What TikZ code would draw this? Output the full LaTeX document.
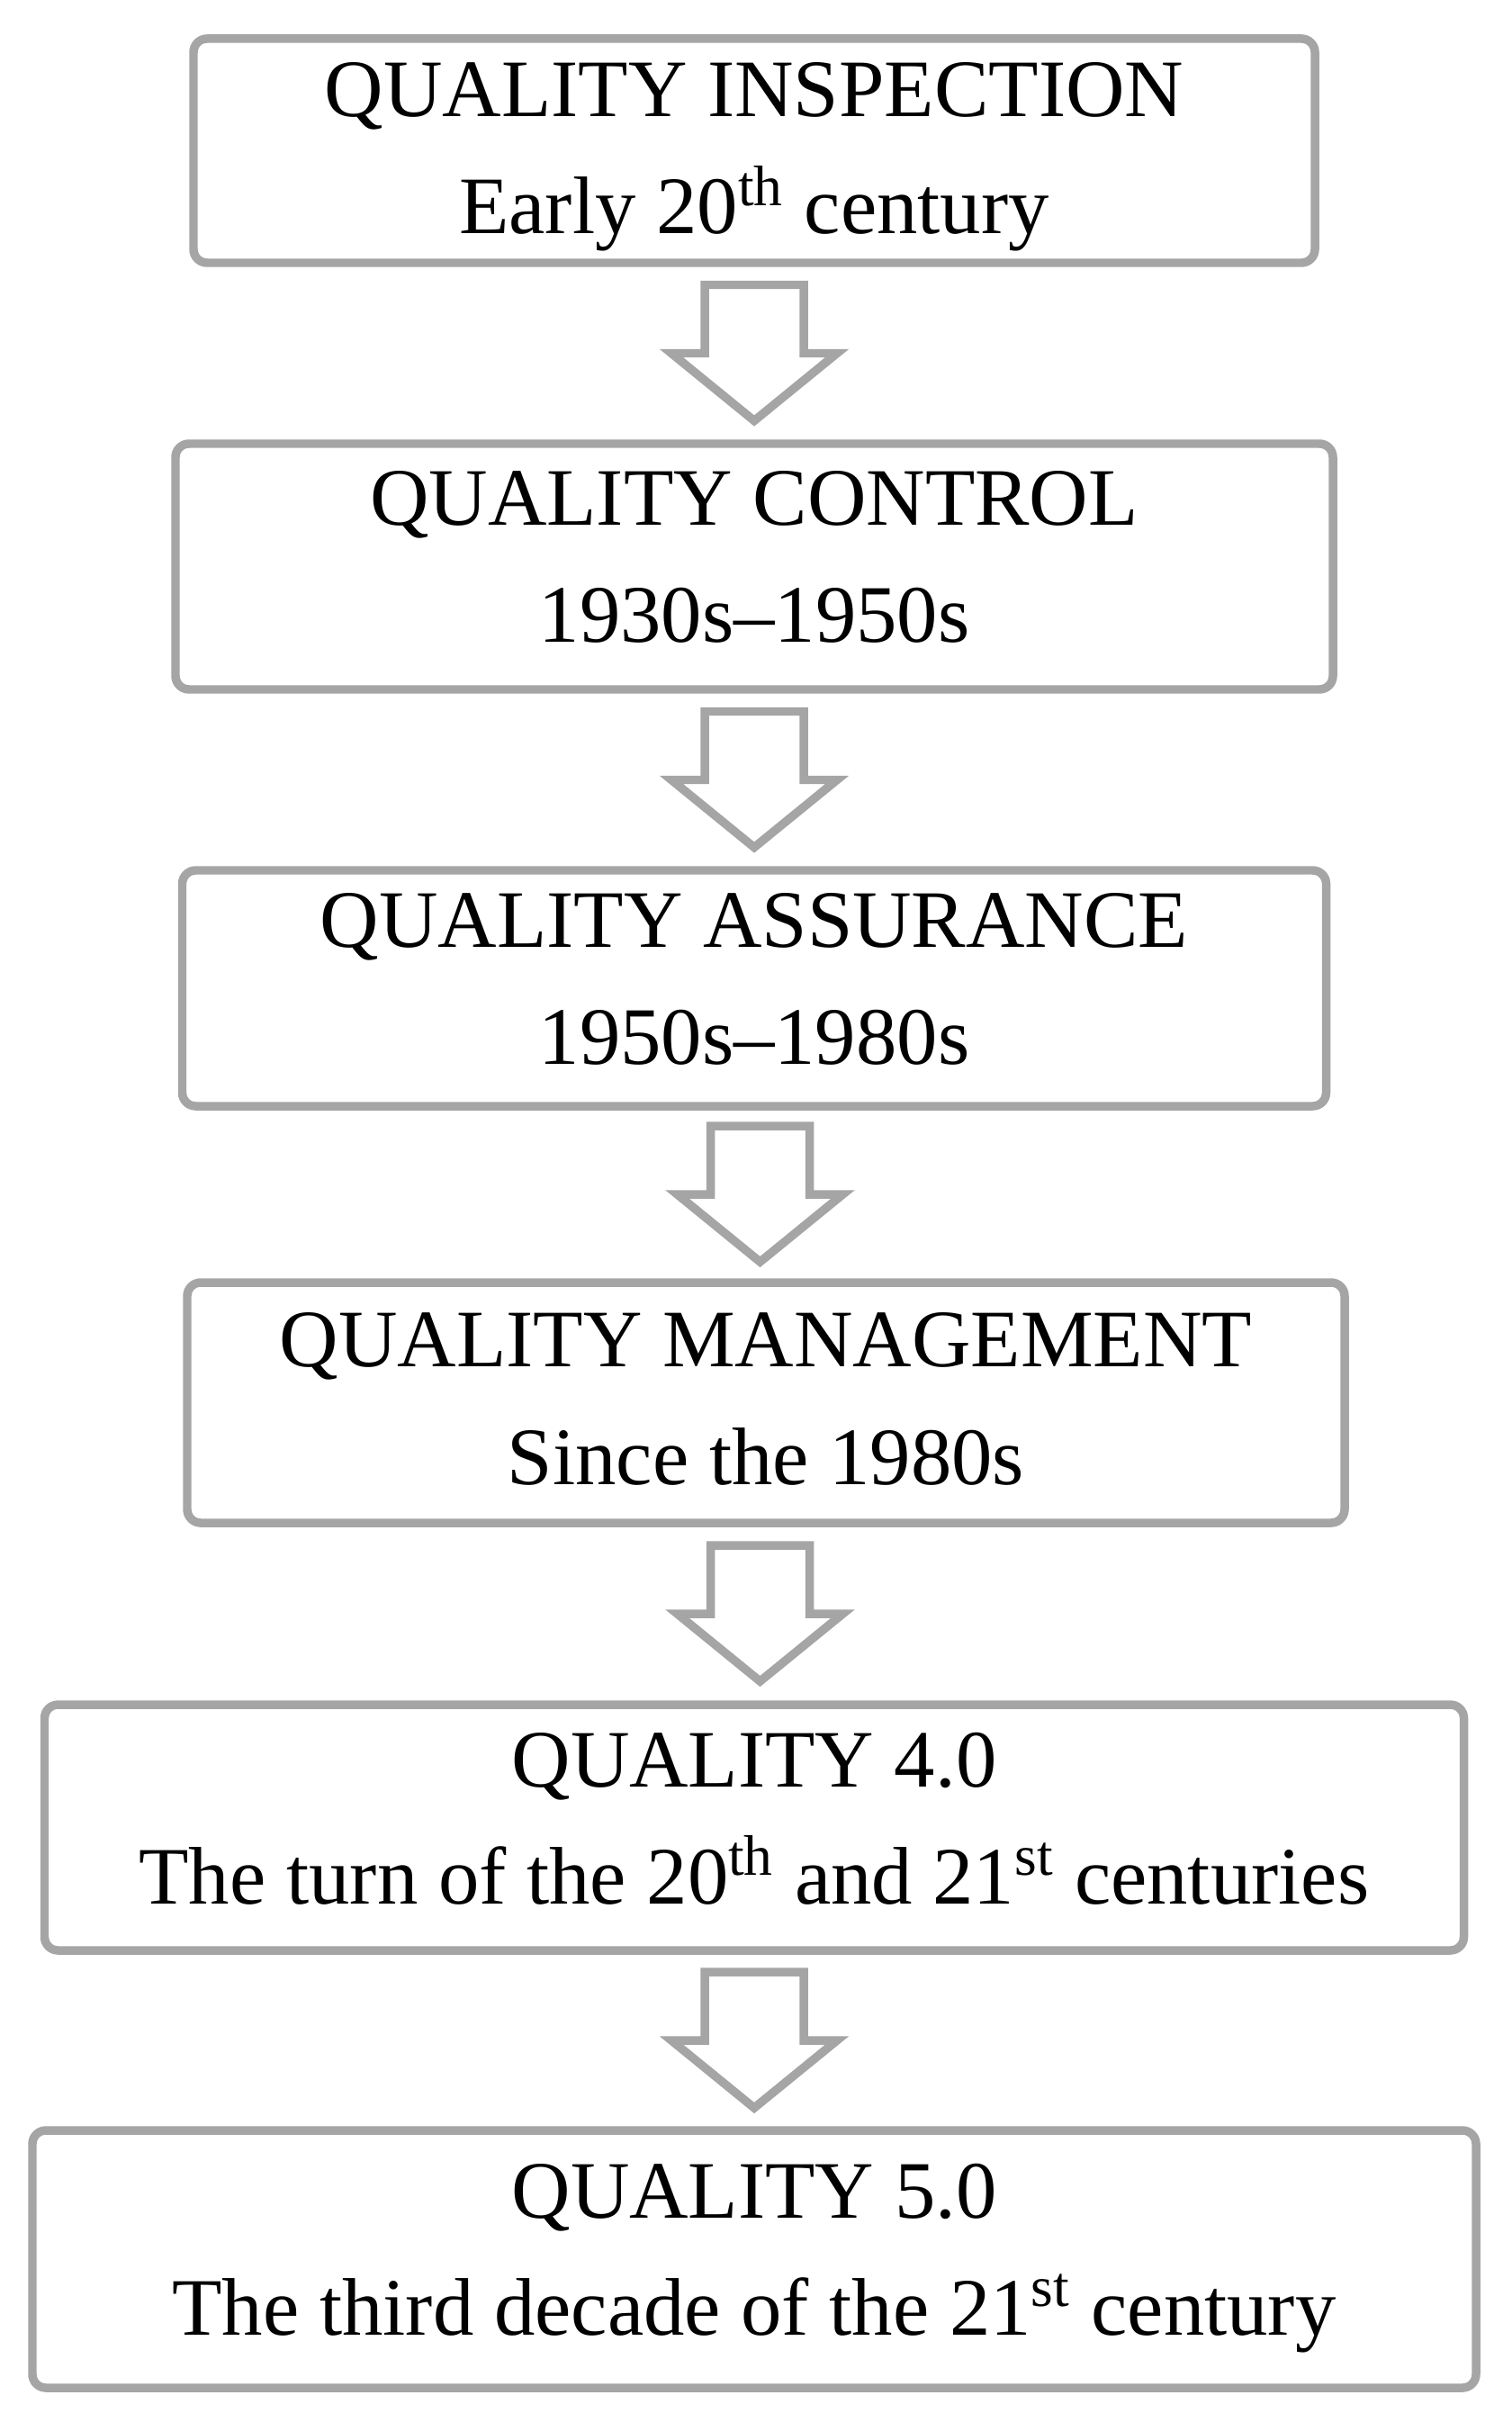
\documentclass[tikz,border=0pt]{standalone}
\usepackage{fontspec}
\setmainfont{Liberation Serif}
\usetikzlibrary{positioning,calc}
\definecolor{boxgray}{HTML}{A5A5A5}

\begin{document}
\begin{tikzpicture}[
        node distance=2.01cm,
        era_style/.style={draw=boxgray, line width=2.7pt, rounded corners=0.15cm, fill=white, outer sep=0pt, inner sep=0pt, align=center, font=\fontsize{25.8pt}{37pt}\selectfont,
            execute at end node={\rule[-6pt]{0pt}{6pt}}},
        arrow_style/.style={draw=boxgray, line width=2.7pt, fill=white}
    ]
    \useasboundingbox (0,0) rectangle (16.79,-26.91);

    % Stages of quality
    \node[era_style, minimum width=12.46cm, minimum height=2.49cm] (Q1) at (8.38,-1.675) {\rule{0pt}{21.5pt}QUALITY INSPECTION\\Early 20\textsuperscript{th} century};
    \node[era_style, below=of Q1, minimum width=12.86cm, minimum height=2.73cm] (Q2) {QUALITY CONTROL\\1930s--1950s};
    \node[era_style, below=of Q2, minimum width=12.71cm, minimum height=2.62cm] (Q3) {QUALITY ASSURANCE\\1950s--1980s};
    \node[era_style, below=1.96cm of Q3, xshift=0.13cm, minimum width=12.86cm, minimum height=2.67cm] (Q4) {\rule{0pt}{20.5pt}QUALITY MANAGEMENT\\Since the 1980s};
    \node[era_style, below=2.02cm of Q4, xshift=-0.13cm, minimum width=15.77cm, minimum height=2.73cm] (Q5) {QUALITY 4.0\\The turn of the 20\textsuperscript{th} and 21\textsuperscript{st} centuries};
    \node[era_style, below=2.00cm of Q5, minimum width=16.04cm, minimum height=2.86cm] (Q6) {QUALITY 5.0\\The third decade of the 21\textsuperscript{st} century};

    % Midpoints between stages
    \coordinate (M1) at ($(Q1.south)!0.5!(Q2.north)$);
    \coordinate (M2) at ($(Q2.south)!0.5!(Q3.north)$);
    \coordinate (M3) at ($(Q3.south)!0.5!(Q4.north)$);
    \coordinate (M4) at ($(Q4.south)!0.5!(Q5.north)$);
    \coordinate (M5) at ($(Q5.south)!0.5!(Q6.north)$);

    % Block arrows
    \draw[arrow_style] (M1) ++(-0.55,0.76) -- ++(1.1,0) -- ++(0,-0.76) -- ++(0.37,0) -- ++(-0.92,-0.75) -- ++(-0.92,0.75) -- ++(0.37,0) -- cycle;
    \draw[arrow_style] (M2) ++(-0.55,0.76) -- ++(1.1,0) -- ++(0,-0.76) -- ++(0.37,0) -- ++(-0.92,-0.75) -- ++(-0.92,0.75) -- ++(0.37,0) -- cycle;
    \draw[arrow_style] (M3) ++(-0.55,0.76) -- ++(1.1,0) -- ++(0,-0.76) -- ++(0.37,0) -- ++(-0.92,-0.75) -- ++(-0.92,0.75) -- ++(0.37,0) -- cycle;
    \draw[arrow_style] (M4) ++(-0.55,0.76) -- ++(1.1,0) -- ++(0,-0.76) -- ++(0.37,0) -- ++(-0.92,-0.75) -- ++(-0.92,0.75) -- ++(0.37,0) -- cycle;
    \draw[arrow_style] (M5) ++(-0.55,0.76) -- ++(1.1,0) -- ++(0,-0.76) -- ++(0.37,0) -- ++(-0.92,-0.75) -- ++(-0.92,0.75) -- ++(0.37,0) -- cycle;

\end{tikzpicture}
\end{document}
